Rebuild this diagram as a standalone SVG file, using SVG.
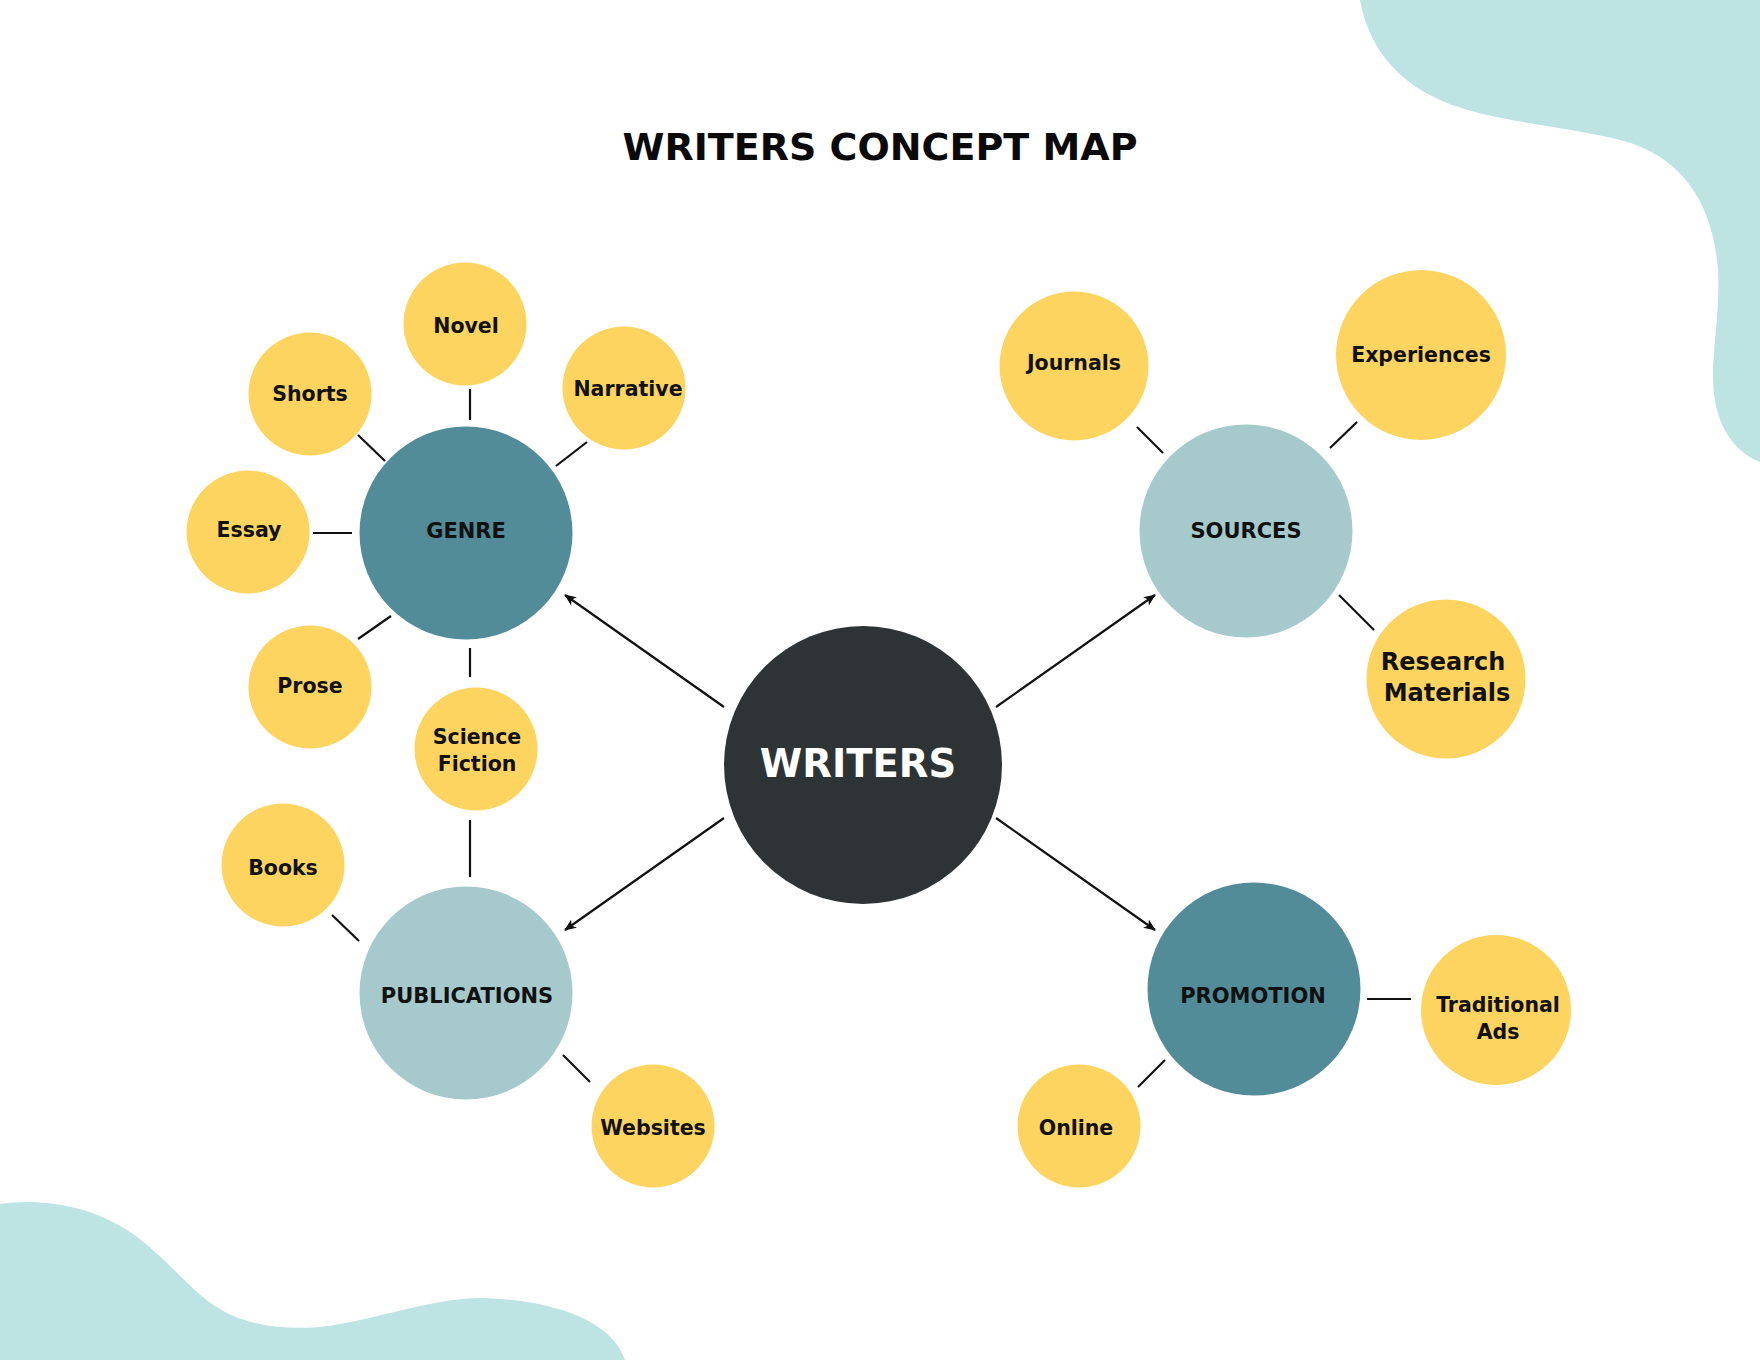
<svg xmlns="http://www.w3.org/2000/svg" width="1760" height="1360" viewBox="0 0 1760 1360">
<style>
.blob{fill:#bde3e3}
.leaf{fill:#fdd45f}
.dark{fill:#528c99}
.light{fill:#a6cacb}
.core{fill:#2e3435}
text{font-family:"DejaVu Sans","Liberation Sans",sans-serif;font-weight:bold;text-anchor:middle;fill:#111}
.lbl{font-size:20.5px}
.hub{font-size:21px}
.big{font-size:24px}
.title{font-size:38px;fill:#0a0a0a}
.center{font-size:38.5px;fill:#ffffff}
.link{stroke:#111;stroke-width:2.2;fill:none}
.arrow{stroke:#111;stroke-width:2.2;fill:none;marker-end:url(#ah)}
</style>
<defs>
<marker id="ah" viewBox="0 0 12 10" refX="11" refY="5" markerWidth="12" markerHeight="10" markerUnits="userSpaceOnUse" orient="auto">
<path d="M0,0 L12,5 L0,10 L3,5 Z" fill="#111"/>
</marker>
</defs>
<rect width="1760" height="1360" fill="#ffffff"/>
<path class="blob" d="M1360,0 C1368,45 1395,80 1440,100 C1490,122 1560,125 1620,140 C1680,155 1710,200 1717,260 C1722,300 1712,350 1713,380 C1714,420 1730,450 1760,462 L1760,0 Z"/>
<path class="blob" d="M0,1204 C40,1198 90,1205 130,1232 C165,1256 190,1290 215,1306 C245,1326 290,1333 340,1324 C390,1315 440,1297 485,1298 C540,1300 610,1315 625,1360 L0,1360 Z"/>
<text class="title" x="880" y="160">WRITERS CONCEPT MAP</text>
<g id="connectors">
<line class="link" x1="470" y1="389" x2="470" y2="420"/>
<line class="link" x1="358" y1="435" x2="385" y2="461"/>
<line class="link" x1="587" y1="442" x2="556" y2="466"/>
<line class="link" x1="313" y1="533" x2="352" y2="533"/>
<line class="link" x1="358" y1="639" x2="391" y2="616"/>
<line class="link" x1="470" y1="648" x2="470" y2="677"/>
<line class="link" x1="470" y1="820" x2="470" y2="877"/>
<line class="link" x1="332" y1="915" x2="359" y2="941"/>
<line class="link" x1="563" y1="1055" x2="590" y2="1082"/>
<line class="link" x1="1138" y1="1087" x2="1165" y2="1060"/>
<line class="link" x1="1367" y1="999" x2="1411" y2="999"/>
<line class="link" x1="1137" y1="427" x2="1163" y2="453"/>
<line class="link" x1="1330" y1="448" x2="1357" y2="422"/>
<line class="link" x1="1339" y1="595" x2="1374" y2="630"/>
<line class="arrow" x1="724" y1="707" x2="565" y2="595"/>
<line class="arrow" x1="996" y1="707" x2="1155" y2="595"/>
<line class="arrow" x1="724" y1="818" x2="565" y2="930"/>
<line class="arrow" x1="996" y1="818" x2="1155" y2="930"/>
</g>
<g id="writers"><circle class="core" cx="863" cy="765" r="139"/><text class="center" x="858" y="777">WRITERS</text></g>
<g id="genre"><circle class="dark" cx="466" cy="533" r="106.5"/><text class="hub" x="466" y="538">GENRE</text></g>
<g id="sources"><circle class="light" cx="1246" cy="531" r="106.5"/><text class="hub" x="1246" y="538">SOURCES</text></g>
<g id="publications"><circle class="light" cx="466" cy="993" r="106.5"/><text class="hub" x="467" y="1003">PUBLICATIONS</text></g>
<g id="promotion"><circle class="dark" cx="1254" cy="989" r="106.5"/><text class="hub" x="1253" y="1003">PROMOTION</text></g>
<g id="novel"><circle class="leaf" cx="465" cy="324" r="61.5"/><text class="lbl" x="466" y="333">Novel</text></g>
<g id="shorts"><circle class="leaf" cx="310" cy="394" r="61.5"/><text class="lbl" x="310" y="401">Shorts</text></g>
<g id="narrative"><circle class="leaf" cx="624" cy="388" r="61.5"/><text class="lbl" x="628" y="396">Narrative</text></g>
<g id="essay"><circle class="leaf" cx="248" cy="532" r="61.5"/><text class="lbl" x="249" y="537">Essay</text></g>
<g id="prose"><circle class="leaf" cx="310" cy="687" r="61.5"/><text class="lbl" x="310" y="693">Prose</text></g>
<g id="science-fiction"><circle class="leaf" cx="476" cy="749" r="61.5"/><text class="lbl" x="477" y="744">Science</text><text class="lbl" x="477" y="771">Fiction</text></g>
<g id="books"><circle class="leaf" cx="283" cy="865" r="61.5"/><text class="lbl" x="283" y="875">Books</text></g>
<g id="websites"><circle class="leaf" cx="653" cy="1126" r="61.5"/><text class="lbl" x="653" y="1135">Websites</text></g>
<g id="online"><circle class="leaf" cx="1079" cy="1126" r="61.5"/><text class="lbl" x="1076" y="1135">Online</text></g>
<g id="traditional-ads"><circle class="leaf" cx="1496" cy="1010" r="75"/><text class="lbl" x="1498" y="1012">Traditional</text><text class="lbl" x="1498" y="1039">Ads</text></g>
<g id="journals"><circle class="leaf" cx="1074" cy="366" r="74.5"/><text class="lbl" x="1074" y="370">Journals</text></g>
<g id="experiences"><circle class="leaf" cx="1421" cy="355" r="85"/><text class="lbl" x="1421" y="362">Experiences</text></g>
<g id="research-materials"><circle class="leaf" cx="1446" cy="679" r="79.5"/><text class="big" x="1443" y="670">Research</text><text class="big" x="1447" y="701">Materials</text></g>
</svg>
